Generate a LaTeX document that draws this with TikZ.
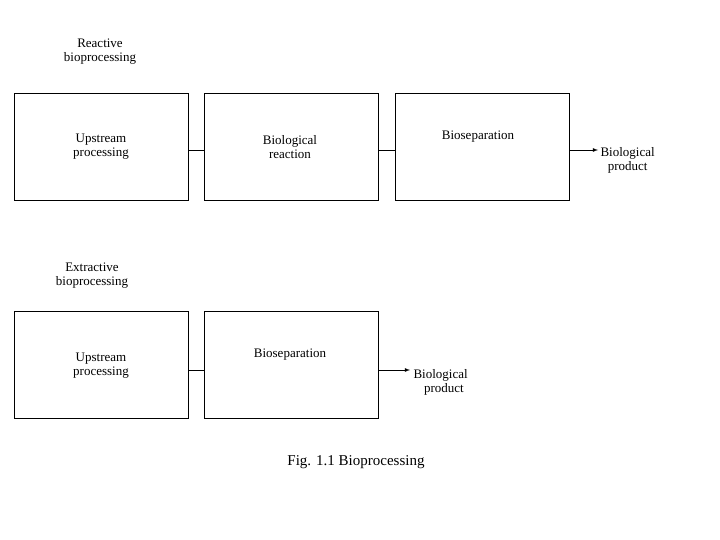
\documentclass[tikz,border=0pt]{standalone}
\usepackage{fontspec}
\setmainfont{Liberation Serif}
\usetikzlibrary{positioning}
\begin{document}
\begin{tikzpicture}[x=1pt,y=-1pt,
  stage/.style={draw, thick, minimum width=174pt, minimum height=107pt, inner sep=0pt},
  lbl/.style={align=center, font=\fontsize{13}{14}\selectfont},
  link/.style={thick},
  feed/.style={thick, -latex}]

\useasboundingbox (0,0) rectangle (720,540);

% reactive bioprocessing
\node[lbl] (reactive) at (100,52) {Reactive\\bioprocessing};
\node[stage] (up1) at (101,146.5) {};
\node[stage, right=16pt of up1] (react) {};
\node[stage, right=16pt of react] (sep1) {};
\node[lbl] at (101,147) {Upstream\\processing};
\node[lbl] at (290,147) {Biological\\reaction};
\node[lbl] at (478,137) {Bioseparation};
\node[lbl, anchor=west] (prod1) at (597,160) {Biological\\product};
\coordinate (tip1) at (598,150);
\draw[link] (up1.east |- tip1) -- (react.west |- tip1);
\draw[link] (react.east |- tip1) -- (sep1.west |- tip1);
\draw[feed] (sep1.east |- tip1) -- (tip1);

% extractive bioprocessing
\node[lbl] (extractive) at (92,276) {Extractive\\bioprocessing};
\node[stage] (up2) at (101,365) {};
\node[stage, right=16pt of up2] (sep2) {};
\node[lbl] at (101,366) {Upstream\\processing};
\node[lbl] at (290,355) {Bioseparation};
\node[lbl, anchor=west] (prod2) at (410,382) {Biological\\\ \ product};
\coordinate (tip2) at (410,370);
\draw[link] (up2.east |- tip2) -- (sep2.west |- tip2);
\draw[feed] (sep2.east |- tip2) -- (tip2);

\node[font=\fontsize{15}{16}\selectfont] (caption) at (356,462) {Fig. 1.1 Bioprocessing};
\end{tikzpicture}
\end{document}
